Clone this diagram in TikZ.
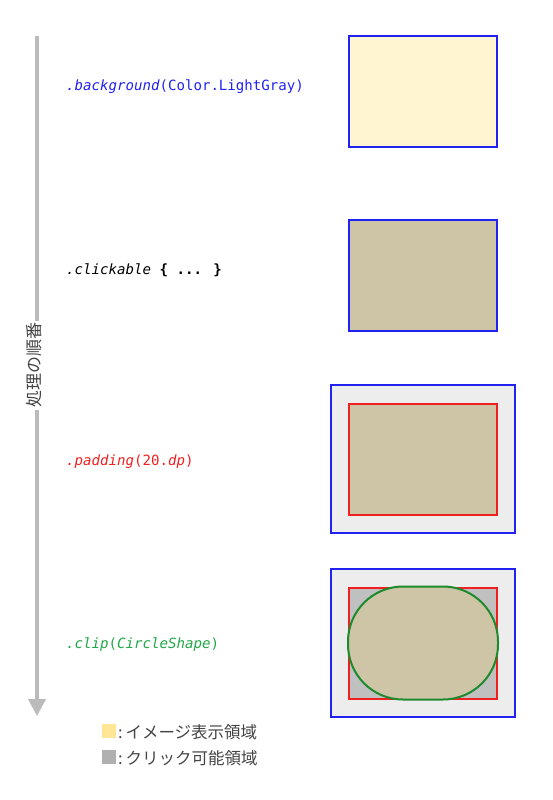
\documentclass[tikz,border=0pt]{standalone}
\usepackage{fontspec}
\usetikzlibrary{arrows.meta}
\newfontfamily\codefont{DejaVu Sans Mono}
\newfontfamily\jpfont{Noto Sans CJK JP}
\definecolor{FlowGray}{HTML}{BBBBBB}
\definecolor{FrameBlue}{HTML}{2222F0}
\definecolor{PadRed}{HTML}{F02020}
\definecolor{ClipGreen}{HTML}{1E8A2E}
\definecolor{CodeGreen}{HTML}{20A848}
\definecolor{ImageFill}{HTML}{FFF5D0}
\definecolor{MixFill}{HTML}{CEC5A6}
\definecolor{PadFill}{HTML}{EDEDED}
\definecolor{ClickFill}{HTML}{C0C0C0}
\definecolor{LegendYellow}{HTML}{FFE594}
\definecolor{LegendGray}{HTML}{B0B0B0}
\definecolor{LabelGray}{HTML}{444444}
\tikzset{
  % boxes for each modifier step
  outerbox/.style={draw=FrameBlue, line width=2pt, fill=PadFill, minimum width=184, minimum height=148, inner sep=0pt},
  innerbox/.style={line width=2pt, minimum width=148, minimum height=111, inner sep=0pt},
  codelabel/.style={anchor=west, inner sep=0pt, font=\codefont\fontsize{14.1}{16}\selectfont},
  legendkey/.style={minimum width=14, minimum height=14, inner sep=0pt},
  legendtext/.style={anchor=west, inner sep=0pt, text=LabelGray, font=\jpfont\fontsize{16.5}{18}\selectfont},
}
\begin{document}
\begin{tikzpicture}[x=1pt, y=-1pt]
    \useasboundingbox (0,0) rectangle (552,800);

    % Processing order arrow
    \coordinate (flowtop) at (37,36);
    \coordinate (flowend) at (37,716);
    \draw[FlowGray, line width=4pt, -{Triangle[width=17pt, length=17pt]}] (flowtop) -- (flowend);
    \node[fill=white, rotate=90, inner sep=2pt, text=LabelGray, font=\jpfont\fontsize{17}{18}\selectfont] (order) at (34,365) {処理の順番};

    % Step 1: background
    \node[codelabel, text=FrameBlue] (bglabel) at (66,87) {\itshape .background\upshape(Color.LightGray)};
    \node[innerbox, draw=FrameBlue, fill=ImageFill] (bgbox) at (423,91.5) {};

    % Step 2: clickable
    \node[codelabel, text=black] (clicklabel) at (66,270) {\itshape .clickable \upshape\bfseries\{ ... \}};
    \node[innerbox, draw=FrameBlue, fill=MixFill] (clickbox) at (423,275) {};

    % Step 3: padding
    \node[codelabel, text=PadRed] (padlabel) at (66,462) {\itshape .padding\upshape(20.\itshape dp\upshape)};
    \node[outerbox] (padouter) at (423,459) {};
    \node[innerbox, draw=PadRed, fill=MixFill] (padinner) at (423,459) {};

    % Step 4: clip
    \node[codelabel, text=CodeGreen] (cliplabel) at (66,645) {\itshape .clip\upshape(\itshape CircleShape\upshape)};
    \node[outerbox] (clipouter) at (423,643) {};
    \node[innerbox, draw=PadRed, fill=ClickFill] (clipinner) at (423,643) {};
    \draw[ClipGreen, line width=2pt, fill=MixFill, rounded corners=55pt]
        (clipinner.south west) rectangle (clipinner.north east);

    % Legend
    \node[legendkey, fill=LegendYellow] (keyimage) at (109,731) {};
    \node[legendtext] (textimage) at (118,732) {:\,イメージ表示領域};
    \node[legendkey, fill=LegendGray] (keyclick) at (109,757) {};
    \node[legendtext] (textclick) at (118,758) {:\,クリック可能領域};
\end{tikzpicture}
\end{document}
